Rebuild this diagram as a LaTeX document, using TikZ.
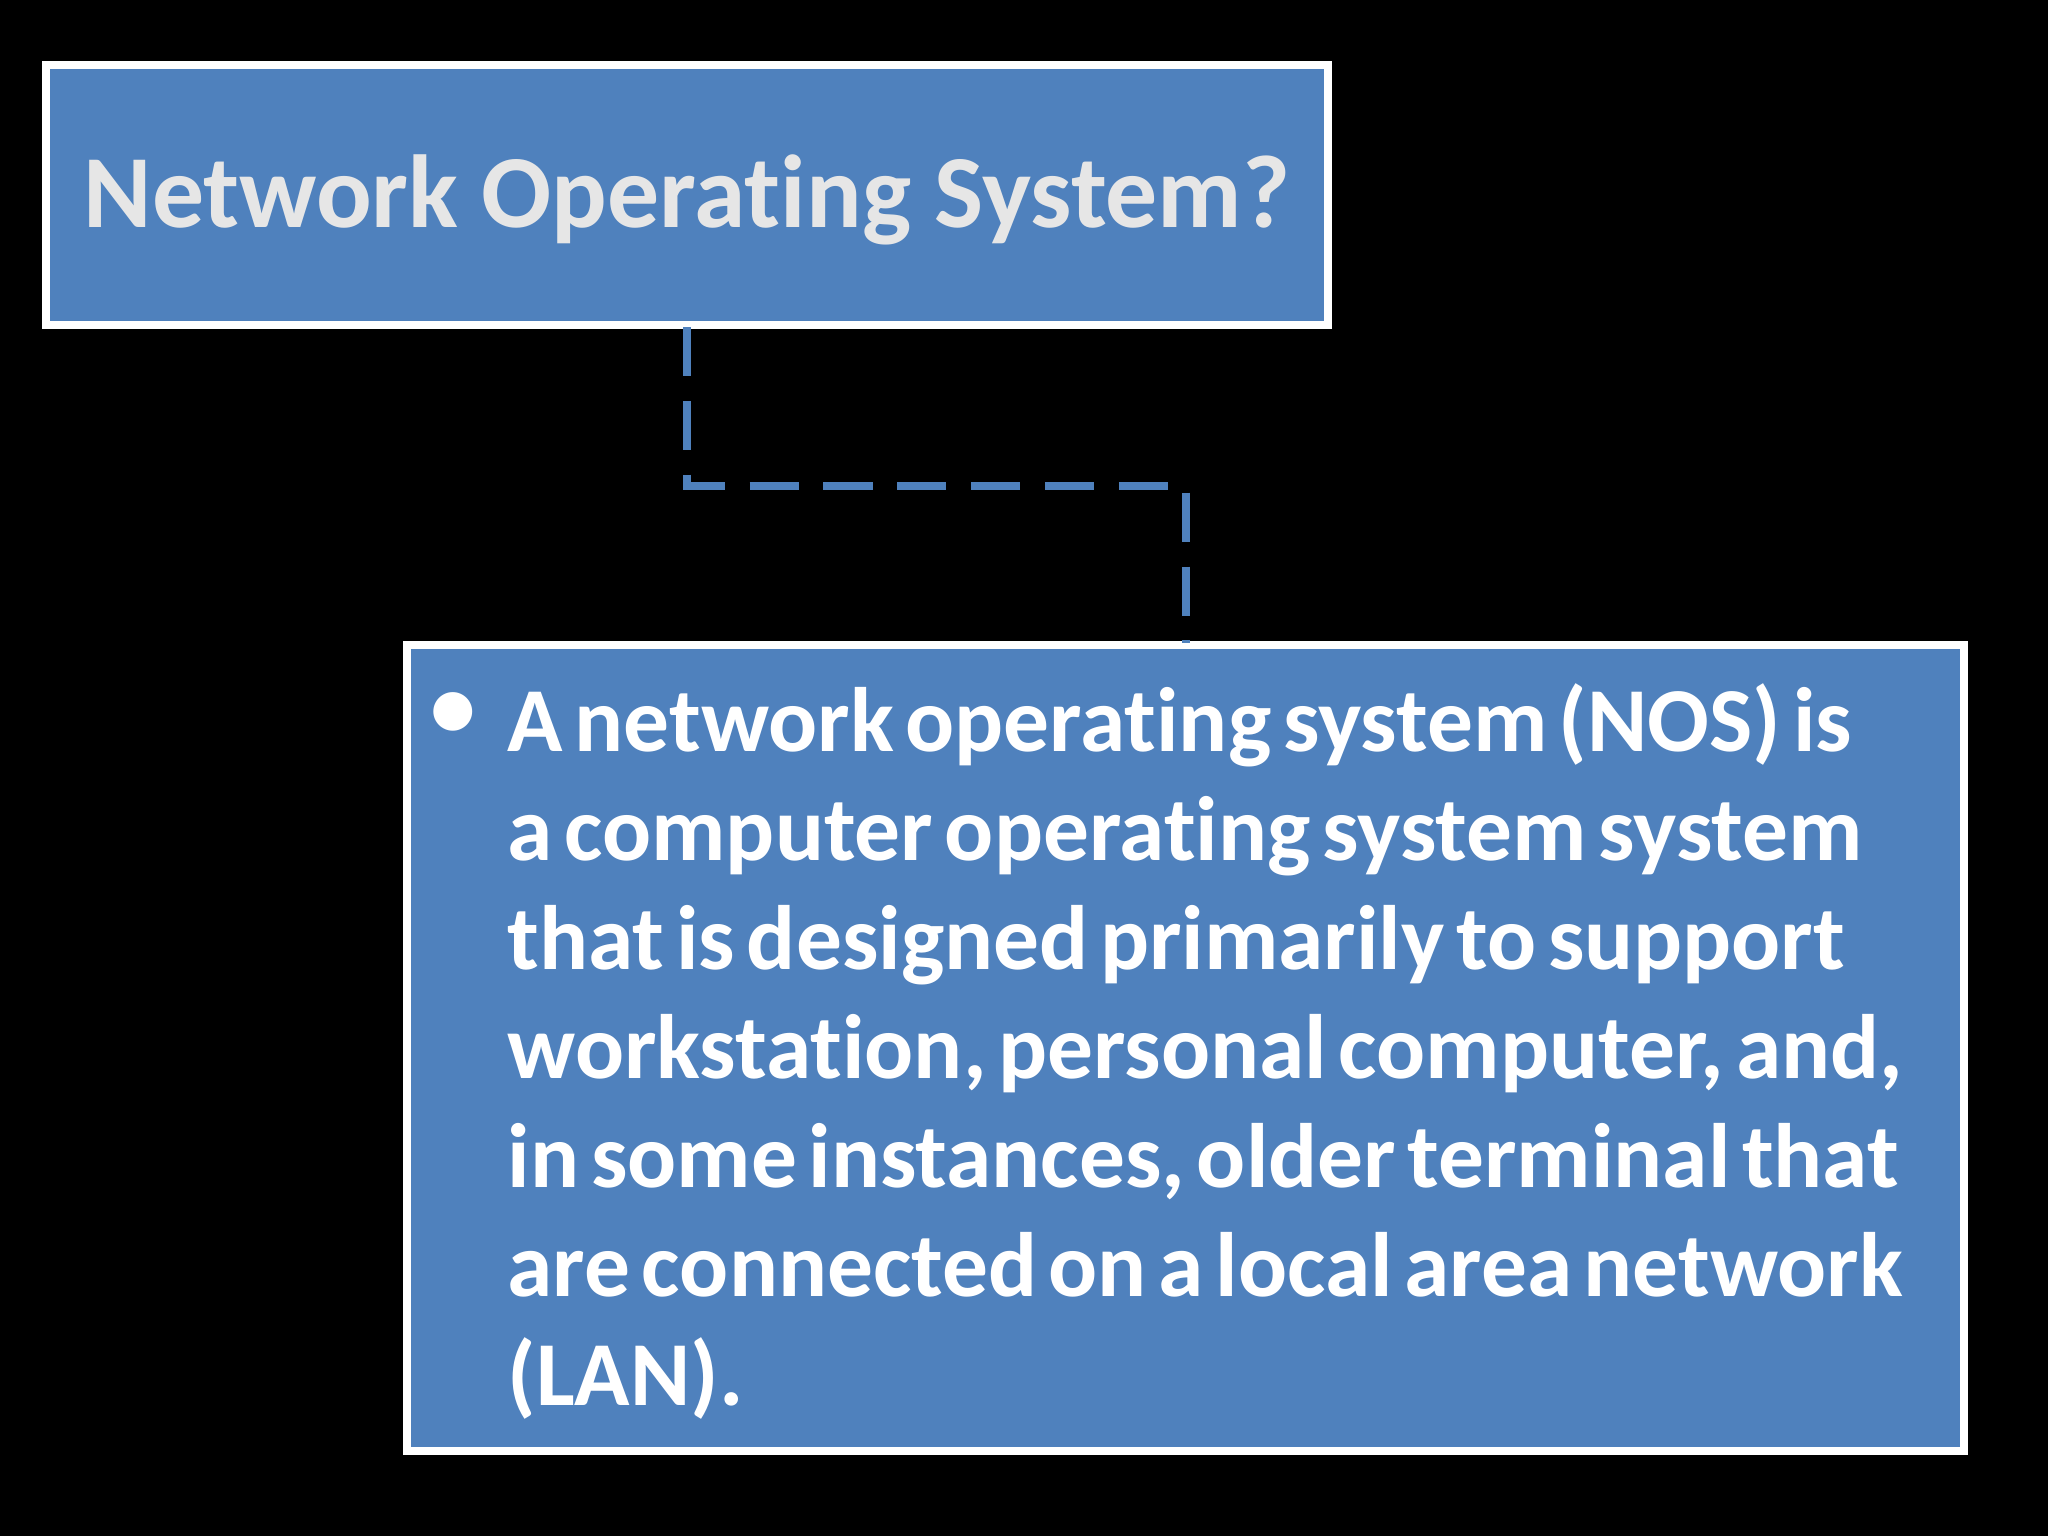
\documentclass[tikz,border=0pt]{standalone}
\usepackage{fontspec}
\setmainfont[Ligatures=NoCommon]{Carlito}
\definecolor{boxblue}{HTML}{4F81BD}
\definecolor{titlegray}{HTML}{E6E6E6}
\begin{document}
\begin{tikzpicture}[x=0.01cm,y=-0.01cm,
  box/.style={draw=white,line width=2.2pt,fill=boxblue},
  conn/.style={draw=boxblue,line width=2.5pt,dash pattern=on 14pt off 7pt}]
\fill[black] (0,0) rectangle (2048,1536);
\useasboundingbox (0,0) rectangle (2048,1536);
\path[box] (46,65) rectangle (1328,325);
\node (title) at (687,200) {\fontsize{29.5}{34}\selectfont\bfseries\color{titlegray}Network Operating System?};
\coordinate (tb) at (687,327);
\path[box] (407,645) rectangle (1964,1451);
\coordinate (bt) at (1186,643);
\draw[conn] (tb) -- (687,486) -- (1186,486) -- (bt);
\node[anchor=north west] (bul) at (418,680) {\fontsize{26}{31}\selectfont\bfseries\color{white}•};
\node[anchor=north west,inner sep=0pt,text width=14.5cm,align=left,text=white] (body) at (507,683)
{\fontsize{26}{31}\selectfont\bfseries\hyphenpenalty=10000\exhyphenpenalty=10000 A network operating system (NOS) is a computer operating system system that is designed primarily to support workstation, personal computer, and, in some instances, older terminal that are connected on a local area network (LAN).\par};
\end{tikzpicture}
\end{document}
